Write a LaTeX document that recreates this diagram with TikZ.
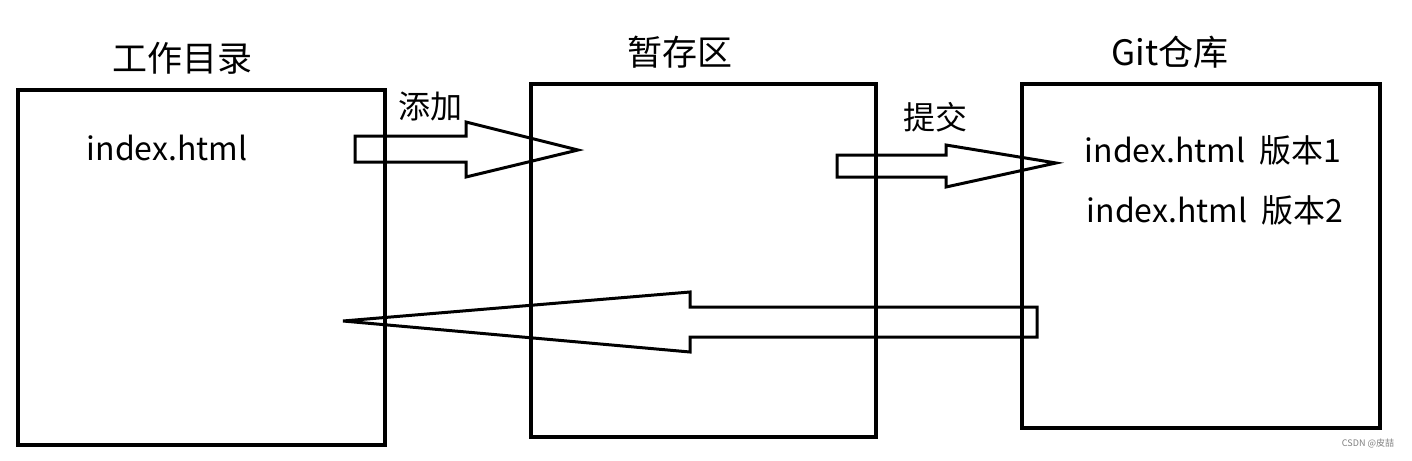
\documentclass[tikz,border=0pt]{standalone}
\usepackage{fontspec}
\setmainfont{Noto Sans CJK SC}
\begin{document}
\begin{tikzpicture}[x=1pt,y=-1pt,
  box/.style={draw,line width=3.5pt},
  arr/.style={draw,line width=3pt,line join=miter},
  lbl/.style={font=\fontsize{32}{36}\selectfont,inner sep=0pt}]
\useasboundingbox (0,0) rectangle (1412,460);
\fill[white] (0,0) rectangle (1412,460);
\node[box,minimum width=367pt,minimum height=355pt,inner sep=0pt] (b1) at (201.5,267.5) {};
\node[box,minimum width=345pt,minimum height=353pt,inner sep=0pt] (b2) at (703.5,260.5) {};
\node[box,minimum width=358pt,minimum height=344pt,inner sep=0pt] (b3) at (1201,256) {};
\node[lbl,font=\fontsize{35}{40}\selectfont] (t1) at (182,58) {工作目录};
\node[lbl,font=\fontsize{35}{40}\selectfont] (t2) at (680,52) {暂存区};
\node[lbl,font=\fontsize{35}{40}\selectfont] (t3) at (1170,52) {Git仓库};
\node[lbl] (l1) at (430,106) {添加};
\node[lbl] (l2) at (935,117) {提交};
\node[lbl] (f1) at (167,148) {index.html};
\node[lbl] (f2) at (1213,150) {index.html\ \ 版本1};
\node[lbl] (f3) at (1215,210) {index.html\ \ 版本2};
\node[inner sep=0pt,text=gray,font=\fontsize{9}{10}\selectfont] (w) at (1368,443) {CSDN @皮喆};
\draw[arr] (355,136) -- (466,136) -- (466,122) -- (578,150) -- (466,177) -- (466,162) -- (355,162) -- cycle;
\draw[arr] (837,155) -- (946,155) -- (946,145) -- (1056,163) -- (946,187) -- (946,177) -- (837,177) -- cycle;
\draw[arr] (1037,307) -- (690,307) -- (690,292) -- (343,321) -- (690,352) -- (690,337) -- (1037,337) -- cycle;
\end{tikzpicture}
\end{document}
